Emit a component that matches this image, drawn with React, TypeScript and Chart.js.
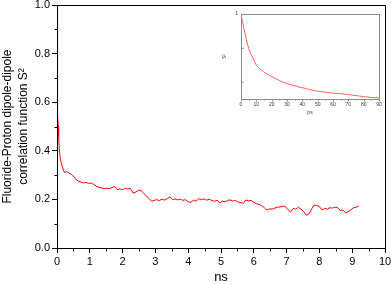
import React, { useEffect, useRef } from 'react';
import { Chart, registerables } from 'chart.js';
Chart.register(...registerables);

const FONT = '"Liberation Sans", Arial, Helvetica, sans-serif';

// Main plot: time (ns) and S^2 values
const timeNs = [
  0, 0.005, 0.01, 0.02, 0.03, 0.04, 0.05, 0.07, 0.1, 0.13, 0.16, 0.2, 0.24, 0.28,
  0.32, 0.40, 0.48, 0.56, 0.64, 0.72, 0.80, 0.88, 0.96, 1.04, 1.12, 1.20, 1.28, 1.36, 1.44, 1.52,
  1.60, 1.68, 1.76, 1.84, 1.92, 2.00, 2.08, 2.16, 2.24, 2.32, 2.40, 2.48, 2.56, 2.64, 2.72, 2.80,
  2.88, 2.96, 3.04, 3.12, 3.20, 3.28, 3.36, 3.44, 3.52, 3.60, 3.68, 3.76, 3.84, 3.92, 4.00, 4.08,
  4.16, 4.24, 4.32, 4.40, 4.48, 4.56, 4.64, 4.72, 4.80, 4.88, 4.96, 5.04, 5.12, 5.20, 5.28, 5.36,
  5.44, 5.52, 5.60, 5.68, 5.76, 5.84, 5.92, 6.00, 6.08, 6.16, 6.24, 6.32, 6.40, 6.48, 6.56, 6.64,
  6.72, 6.80, 6.88, 6.96, 7.04, 7.12, 7.20, 7.28, 7.36, 7.44, 7.52, 7.60, 7.68, 7.76, 7.84, 7.92,
  8.00, 8.08, 8.16, 8.24, 8.32, 8.40, 8.48, 8.56, 8.64, 8.72, 8.80, 8.88, 8.96, 9.04, 9.12, 9.20,
];
const s2Main = [
  1.0, 0.8, 0.69, 0.6, 0.55, 0.5, 0.46, 0.41, 0.37, 0.35, 0.335, 0.318, 0.31, 0.314,
  0.312, 0.306, 0.298, 0.284, 0.276, 0.272, 0.268, 0.270, 0.266, 0.267, 0.262, 0.254, 0.250, 0.247, 0.244, 0.246,
  0.244, 0.249, 0.253, 0.240, 0.243, 0.240, 0.246, 0.243, 0.245, 0.226, 0.230, 0.238, 0.236, 0.226, 0.214, 0.204,
  0.192, 0.196, 0.199, 0.195, 0.201, 0.197, 0.203, 0.210, 0.199, 0.202, 0.198, 0.201, 0.196, 0.199, 0.190, 0.188,
  0.196, 0.193, 0.203, 0.199, 0.202, 0.197, 0.200, 0.196, 0.192, 0.197, 0.185, 0.193, 0.190, 0.196, 0.198, 0.193,
  0.196, 0.189, 0.187, 0.184, 0.198, 0.194, 0.196, 0.188, 0.182, 0.180, 0.174, 0.166, 0.156, 0.161, 0.160, 0.164,
  0.168, 0.169, 0.172, 0.171, 0.158, 0.148, 0.163, 0.160, 0.168, 0.160, 0.150, 0.135, 0.140, 0.160, 0.177, 0.174,
  0.170, 0.157, 0.163, 0.160, 0.166, 0.164, 0.168, 0.166, 0.154, 0.156, 0.144, 0.150, 0.157, 0.166, 0.168, 0.172,
];
const xMinorNs = [0.5, 1.5, 2.5, 3.5, 4.5, 5.5, 6.5, 7.5, 8.5, 9.5];
const yMinorMain = [0.1, 0.3, 0.5, 0.7, 0.9];

// Inset: time (ps) and S^2
const insetPs = [0, 1, 2, 3, 4, 5, 6, 7, 8, 10, 12, 14, 16, 18, 20, 23, 26, 30, 34, 38, 42, 46, 50, 55, 60, 65, 70, 75, 80, 85, 90];
const insetS2 = [1.0, 0.955, 0.91, 0.87, 0.83, 0.80, 0.775, 0.755, 0.735, 0.70, 0.68, 0.665, 0.652, 0.642, 0.632, 0.618, 0.605, 0.59, 0.58, 0.57, 0.562, 0.553, 0.546, 0.54, 0.535, 0.531, 0.526, 0.52, 0.514, 0.509, 0.507];
const insetXTicks = [0, 10, 20, 30, 40, 50, 60, 70, 80, 90];
const insetXMinor = [5, 15, 25, 35, 45, 55, 65, 75, 85];
const insetYTicks = [1, 0.8, 0.6];

const al = (v: number) => Math.round(v) + 0.5;

const mainDecor = {
  id: 'mainDecor',
  afterDraw(chart: any) {
    const { ctx, chartArea: a, scales } = chart;
    const x = scales.x, y = scales.y;
    ctx.save();
    ctx.strokeStyle = '#000';
    ctx.lineWidth = 1;
    ctx.strokeRect(al(a.left), al(a.top), Math.round(a.right) - Math.round(a.left), Math.round(a.bottom) - Math.round(a.top));
    ctx.beginPath();
    xMinorNs.forEach((v) => {
      const px = al(x.getPixelForValue(v));
      ctx.moveTo(px, al(a.bottom));
      ctx.lineTo(px, al(a.bottom) + 3);
    });
    yMinorMain.forEach((v) => {
      const py = al(y.getPixelForValue(v));
      ctx.moveTo(al(a.left) - 3, py);
      ctx.lineTo(al(a.left), py);
    });
    ctx.stroke();
    ctx.restore();
  },
};

const insetDecor = {
  id: 'insetDecor',
  afterDraw(chart: any) {
    const { ctx, chartArea: a, scales } = chart;
    const x = scales.x, y = scales.y;
    ctx.save();
    ctx.strokeStyle = '#8c8c8c';
    ctx.lineWidth = 1;
    ctx.strokeRect(al(a.left), al(a.top), Math.round(a.right) - Math.round(a.left), Math.round(a.bottom) - Math.round(a.top));
    ctx.beginPath();
    insetXTicks.forEach((v) => {
      const px = al(x.getPixelForValue(v));
      ctx.moveTo(px, al(a.bottom));
      ctx.lineTo(px, al(a.bottom) + 2);
    });
    insetXMinor.forEach((v) => {
      const px = al(x.getPixelForValue(v));
      ctx.moveTo(px, al(a.bottom));
      ctx.lineTo(px, al(a.bottom) + 1);
    });
    insetYTicks.forEach((v) => {
      const py = al(y.getPixelForValue(v));
      ctx.moveTo(al(a.left), py);
      ctx.lineTo(al(a.left) + 2, py);
    });
    ctx.stroke();
    ctx.restore();
  },
};

export default function App() {
  const mainRef = useRef<HTMLCanvasElement>(null);
  const insetRef = useRef<HTMLCanvasElement>(null);

  useEffect(() => {
    const main = new Chart(mainRef.current as HTMLCanvasElement, {
      type: 'line',
      data: {
        datasets: [
          {
            data: timeNs.map((t, i) => ({ x: t, y: s2Main[i] })),
            borderColor: '#ff0000',
            borderWidth: 1,
            pointRadius: 0,
            tension: 0,
            fill: false,
          },
        ],
      },
      options: {
        animation: false,
        responsive: false,
        devicePixelRatio: 1,
        layout: { padding: { top: 5, right: 7, left: 0, bottom: 0 } },
        plugins: { legend: { display: false }, tooltip: { enabled: false }, title: { display: false } },
        scales: {
          x: {
            type: 'linear',
            min: 0,
            max: 10,
            afterFit: (s: any) => { s.height = 36; s.paddingLeft = 0; s.paddingRight = 0; },
            ticks: { stepSize: 1, color: '#000', font: { family: FONT, size: 11 }, padding: 2, maxRotation: 0 },
            grid: { drawOnChartArea: false, drawTicks: true, tickLength: 5, color: '#000' },
            border: { display: true, color: '#000' },
            title: { display: true, text: 'ns', color: '#000', font: { family: FONT, size: 13, lineHeight: 1.0 }, padding: { top: 0, bottom: 0 } },
          },
          y: {
            type: 'linear',
            min: 0,
            max: 1,
            afterFit: (s: any) => { s.width = 57; s.paddingTop = 0; s.paddingBottom = 0; },
            ticks: { stepSize: 0.2, color: '#000', font: { family: FONT, size: 11 }, padding: 2, callback: (v: any) => Number(v).toFixed(1) },
            grid: { drawOnChartArea: false, drawTicks: true, tickLength: 5, color: '#000' },
            border: { display: true, color: '#000' },
            title: {
              display: true,
              text: ['Fluoride-Proton dipole-dipole', 'correlation function S\u00B2'],
              color: '#000',
              font: { family: FONT, size: 12, lineHeight: 1.3 },
              padding: { top: 0, bottom: 0 },
            },
          },
        },
      },
      plugins: [mainDecor],
    } as any);

    const inset = new Chart(insetRef.current as HTMLCanvasElement, {
      type: 'line',
      data: {
        datasets: [
          {
            data: insetPs.map((t, i) => ({ x: t, y: insetS2[i] })),
            borderColor: 'rgb(255,95,95)',
            borderWidth: 1,
            pointRadius: 0,
            tension: 0.3,
            fill: false,
          },
        ],
      },
      options: {
        animation: false,
        responsive: false,
        devicePixelRatio: 1,
        layout: { padding: { top: 14, right: 11, left: 20, bottom: 0 } },
        plugins: { legend: { display: false }, tooltip: { enabled: false }, title: { display: false } },
        scales: {
          x: {
            type: 'linear',
            min: 0,
            max: 90,
            afterFit: (s: any) => { s.height = 21; s.paddingLeft = 0; s.paddingRight = 0; },
            afterBuildTicks: (s: any) => { s.ticks = insetXTicks.map((v) => ({ value: v })); },
            ticks: { color: '#333', font: { family: FONT, size: 5 }, padding: 3, maxRotation: 0, autoSkip: false },
            grid: { display: false, drawTicks: false, tickLength: 0 },
            border: { display: false },
            title: { display: true, text: 'ps', color: '#333', font: { family: FONT, size: 5 }, padding: { top: 0, bottom: 4 } },
          },
          y: {
            type: 'linear',
            min: 0.5,
            max: 1,
            afterFit: (s: any) => { s.width = 21; },
            afterBuildTicks: (s: any) => { s.ticks = insetYTicks.map((v) => ({ value: v })); },
            ticks: { color: '#333', font: { family: FONT, size: 5 }, padding: 3, callback: (v: any) => (v === 1 ? '1' : '') },
            grid: { display: false, drawTicks: false, tickLength: 0 },
            border: { display: false },
            title: { display: true, text: 'S\u00B2', color: '#333', font: { family: FONT, size: 5 }, padding: { top: 2, bottom: 0 } },
          },
        },
      },
      plugins: [insetDecor],
    } as any);

    return () => {
      main.destroy();
      inset.destroy();
    };
  }, []);

  return (
    <div style={{ position: 'fixed', left: 0, top: 0, width: 392, height: 284, background: '#fff' }}>
      <canvas ref={mainRef} width={392} height={284} style={{ position: 'absolute', left: 0, top: 0, width: 392, height: 284 }} />
      <canvas ref={insetRef} width={190} height={120} style={{ position: 'absolute', left: 200, top: 0, width: 190, height: 120 }} />
    </div>
  );
}
